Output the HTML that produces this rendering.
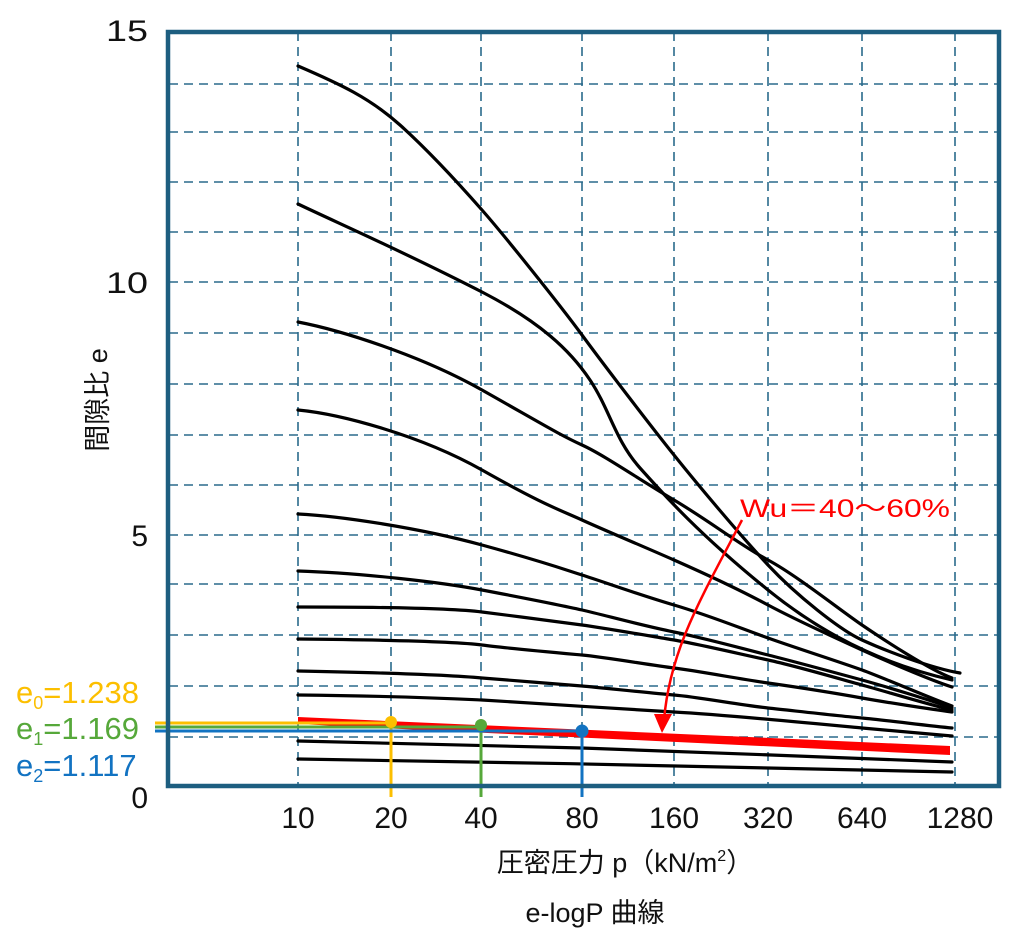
<!DOCTYPE html><html><head><meta charset="utf-8"><style>body{margin:0;background:#fff}svg text{font-family:"Liberation Sans","Noto Sans CJK JP",sans-serif}</style></head><body>
<svg width="1024" height="938" viewBox="0 0 1024 938" xmlns="http://www.w3.org/2000/svg">
<g stroke="#2a6a8c" stroke-width="1.6" stroke-dasharray="9,6" fill="none">
<path d="M169 84H999M169 132H999M169 182H999M169 232H999M169 282H999M169 333H999M169 384H999M169 435H999M169 485H999M169 535H999M169 584H999M169 635H999M169 686H999M169 737H999"/>
<path d="M298 32V786M391 32V786M481 32V786M582 32V786M674 32V786M768 32V786M862 32V786M955 32V786"/>
</g>
<g fill="none" stroke="#000" stroke-width="3.2" stroke-linecap="round">
<path d="M298 66C340 84 370 98 400 125S460 185 482 210S560 305 582 335S650 425 674 455S740 535 768 565S840 630 862 640S930 668 960 673"/>
<path d="M298 204C340 224 400 250 482 292C540 322 570 350 590 380S615 440 640 468S700 535 768 590S900 668 952 680"/>
<path d="M298 322C340 330 420 355 482 390S560 435 582 445S640 480 674 500S740 545 768 560S840 610 862 625S930 670 952 678"/>
<path d="M298 410C340 414 420 435 482 470S560 510 582 520S640 545 674 560S740 590 768 605S840 640 862 650S930 680 952 687"/>
<path d="M298 514C340 516 420 528 482 545S560 568 582 575S640 595 674 605S740 628 768 638S840 662 862 670S930 698 952 706"/>
<path d="M298 571C360 573 440 582 482 590S560 605 582 610S640 625 674 632S740 648 768 655S840 674 862 680S930 700 952 708"/>
<path d="M298 607C380 607 450 608 482 612S560 622 582 625S650 636 674 640S740 654 768 660S840 679 862 685S930 705 952 710"/>
<path d="M298 639C400 640 460 642 482 645S560 653 582 655S650 665 674 668S740 679 768 683S840 694 862 698S930 709 952 712"/>
<path d="M298 671C400 673 460 676 482 678S560 684 582 686S650 693 674 695S740 705 768 708S840 716 862 718S930 726 952 728"/>
<path d="M298 695C400 696 460 699 482 700S620 709 674 712S820 724 862 728S930 734 952 736"/>
<path d="M298 741C420 744 520 746 582 748S900 760 952 762"/>
<path d="M298 759C500 762 800 768 952 772"/>
</g>
<path d="M298 717L950 746L950 755L298 724Z" fill="#f00"/>
<path d="M742 520C700 600 670 650 664 720" fill="none" stroke="#f00" stroke-width="2.5"/>
<path d="M654 714L672 714L662 733Z" fill="#f00"/>
<text x="740" y="517" font-size="25" fill="#f00" textLength="210" lengthAdjust="spacingAndGlyphs">Wu＝40～60%</text>
<path d="M155 723H391V797" fill="none" stroke="#fcbf00" stroke-width="3"/>
<path d="M155 727H481V797" fill="none" stroke="#56a83a" stroke-width="3"/>
<path d="M155 731H582V797" fill="none" stroke="#1273c2" stroke-width="3"/>
<circle cx="391" cy="722" r="6" fill="#fcbf00"/><circle cx="481" cy="725" r="6" fill="#56a83a"/><circle cx="582" cy="731" r="6.5" fill="#1273c2"/>
<rect x="168" y="32" width="831" height="754" fill="none" stroke="#1d5e80" stroke-width="4.5"/>
<g font-size="30" fill="#111" text-anchor="end">
<text x="148" y="41" textLength="42" lengthAdjust="spacingAndGlyphs">15</text><text x="148" y="293" textLength="42" lengthAdjust="spacingAndGlyphs">10</text><text x="148" y="546">5</text><text x="148" y="808">0</text></g>
<g font-size="30" fill="#111" text-anchor="middle">
<text x="298" y="828">10</text><text x="391" y="828">20</text><text x="481" y="828">40</text><text x="582" y="828">80</text><text x="674" y="828">160</text><text x="768" y="828">320</text><text x="862" y="828">640</text><text x="960" y="828">1280</text></g>
<g font-size="31">
<text x="16" y="703" fill="#fcbf00">e<tspan font-size="18" dy="6">0</tspan><tspan dy="-6">=1.238</tspan></text>
<text x="16" y="739" fill="#56a83a">e<tspan font-size="18" dy="6">1</tspan><tspan dy="-6">=1.169</tspan></text>
<text x="16" y="776" fill="#1273c2">e<tspan font-size="18" dy="6">2</tspan><tspan dy="-6">=1.117</tspan></text>
</g>
<text x="625" y="872" font-size="27" fill="#111" text-anchor="middle">圧密圧力 p（kN/m<tspan font-size="16" dy="-11">2</tspan><tspan dy="11">）</tspan></text>
<text x="595" y="922" font-size="27" fill="#111" text-anchor="middle">e-logP 曲線</text>
<text transform="translate(107 400) rotate(-90)" font-size="27" fill="#111" text-anchor="middle">間隙比 e</text>
</svg></body></html>
